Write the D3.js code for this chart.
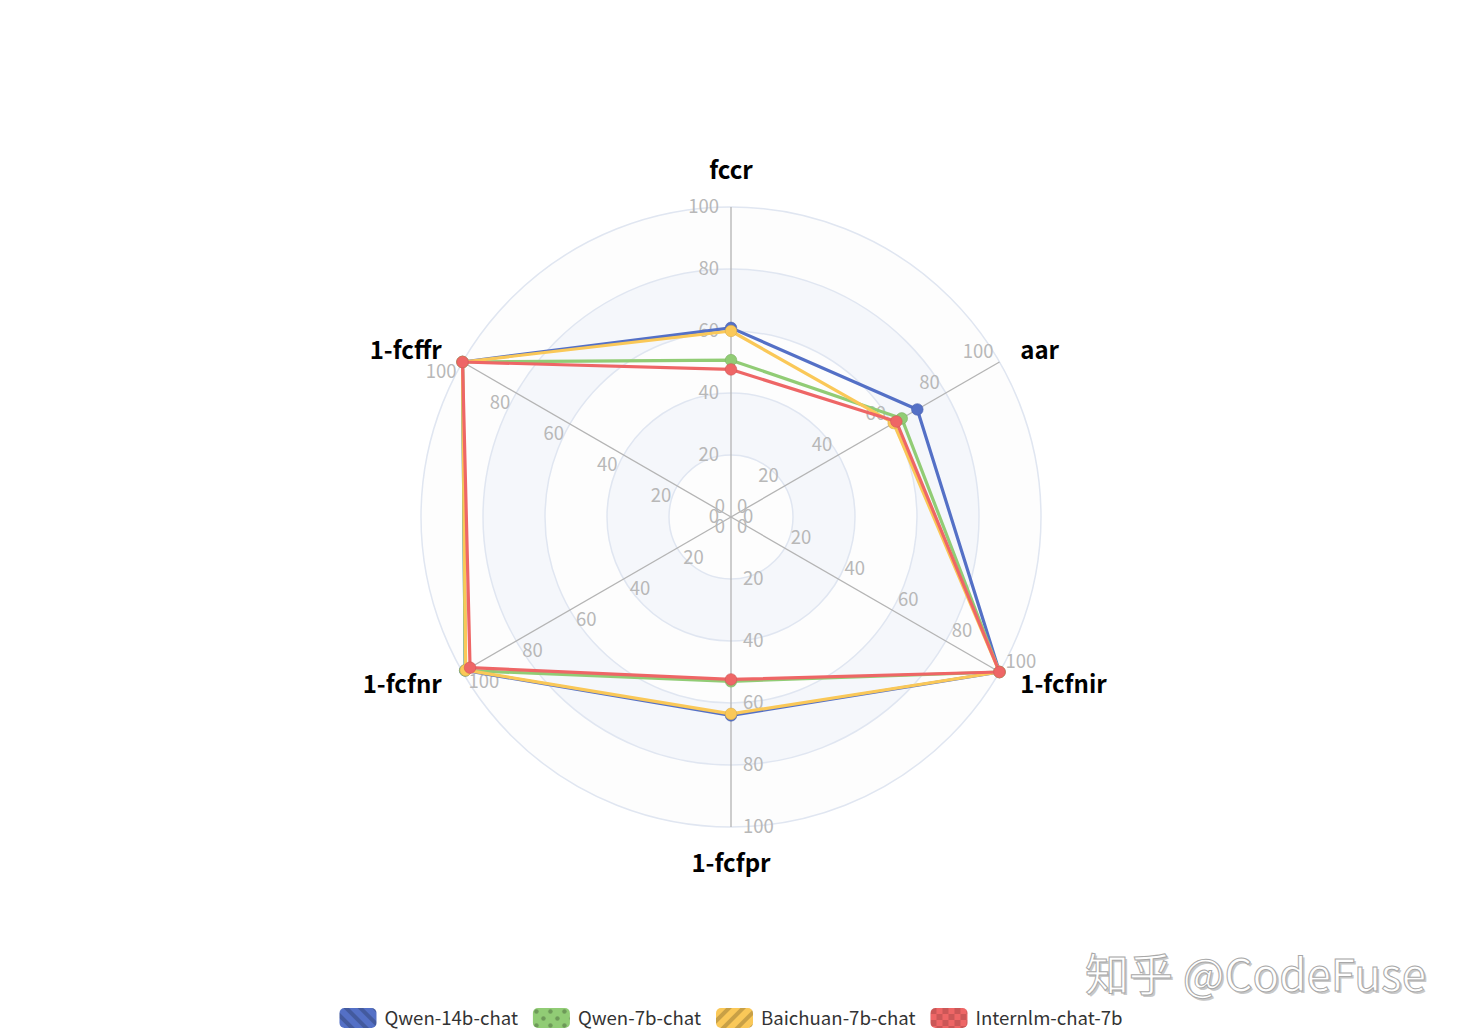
<!DOCTYPE html>
<html><head><meta charset="utf-8">
<script src="https://cdn.jsdelivr.net/npm/d3@7"></script>
<style>
html,body{margin:0;padding:0;background:#fff;}
svg{display:block;}
</style></head>
<body>
<svg id="chart" width="1461" height="1036"></svg>
<script>
const indicators = ["fccr", "aar", "1-fcfnir", "1-fcfpr", "1-fcfnr", "1-fcffr"];
const seriesNames = ["Qwen-14b-chat", "Qwen-7b-chat", "Baichuan-7b-chat", "Internlm-chat-7b"];
const qwen14b = [61, 69.4, 100, 64, 99, 100];
const qwen7b = [50.6, 63.6, 100, 53, 99, 100];
const baichuan7b = [60, 60.6, 100, 63.5, 98.8, 100];
const internlm7b = [47.6, 61.6, 100, 52.4, 97.2, 100];
const tickValues = [0, 20, 40, 60, 80, 100];
const colors = ["#5470c6", "#91cc75", "#fac858", "#ee6666"];
const seriesData = [qwen14b, qwen7b, baichuan7b, internlm7b];

const svg = d3.select("#chart");
const cx = 731, cy = 517, R = 310;
const FONT = "'Noto Sans CJK SC','Noto Sans',sans-serif";

const r = d3.scaleLinear().domain([0, 100]).range([0, R]);
const angle = d3.scaleLinear().domain([0, indicators.length]).range([0, 2 * Math.PI]);
const g = svg.append("g").attr("transform", `translate(${cx},${cy})`);

// split areas
const areaColors = ["rgba(250,250,250,0.3)", "rgba(210,219,238,0.22)"];
for (let i = tickValues.length - 1; i > 0; i--) {
  g.append("path")
    .attr("d", d3.arc()({innerRadius: r(tickValues[i - 1]), outerRadius: r(tickValues[i]), startAngle: 0, endAngle: 2 * Math.PI}))
    .attr("fill", areaColors[(i - 1) % 2]);
}
// split lines
tickValues.slice(1).forEach(v => {
  g.append("circle").attr("r", r(v)).attr("fill", "none").attr("stroke", "#e0e6f1").attr("stroke-width", 1.5);
});
function pt(i, v) {
  const a = angle(i);
  return [Math.sin(a) * r(v), -Math.cos(a) * r(v)];
}
// axis lines
indicators.forEach((name, i) => {
  const [x, y] = pt(i, 100);
  g.append("line").attr("x1", 0).attr("y1", 0).attr("x2", x).attr("y2", y)
    .attr("stroke", "#b4b4b4").attr("stroke-width", 1.3);
});
// tick labels
indicators.forEach((name, i) => {
  const a = angle(i);
  const dx = Math.sin(a), dy = -Math.cos(a);
  const px = dy, py = -dx;
  const anchor = px < -0.01 ? "end" : (px > 0.01 ? "start" : "middle");
  tickValues.forEach(v => {
    const [x, y] = pt(i, v);
    g.append("text")
      .attr("x", x + px * 12).attr("y", y + py * 12 - 2)
      .attr("text-anchor", anchor).attr("dominant-baseline", "central")
      .attr("font-family", FONT).attr("font-size", 18.5).attr("fill", "#b8b8b8")
      .text(v);
  });
});
// indicator names
indicators.forEach((name, i) => {
  const a = angle(i);
  const dx = Math.sin(a), dy = -Math.cos(a);
  const rr = R + 24;
  const anchor = dx < -0.01 ? "end" : (dx > 0.01 ? "start" : "middle");
  let base = "central";
  let yy = dy * rr;
  if (Math.abs(dx) < 0.01) base = dy < 0 ? "auto" : "hanging";
  g.append("text")
    .attr("x", dx * rr).attr("y", dy < -0.99 ? yy - 4 : (dy > 0.99 ? yy - 1 : yy - 2))
    .attr("text-anchor", anchor).attr("dominant-baseline", base)
    .attr("font-family", FONT).attr("font-size", 24).attr("font-weight", "bold").attr("fill", "#000")
    .text(name);
});

// decal patterns
const defs = svg.append("defs");
function stripes(id, color, dir) {
  const p = defs.append("pattern").attr("id", id).attr("patternUnits", "userSpaceOnUse")
    .attr("width", 10).attr("height", 10).attr("patternTransform", `rotate(${dir})`);
  p.append("rect").attr("width", 10).attr("height", 10).attr("fill", color);
  p.append("rect").attr("width", 4).attr("height", 10).attr("fill", "rgba(0,0,0,0.2)");
}
stripes("dec0", colors[0], -45);
stripes("dec2", colors[2], 45);
{
  const p = defs.append("pattern").attr("id", "dec1").attr("patternUnits", "userSpaceOnUse").attr("width", 14).attr("height", 14);
  p.append("rect").attr("width", 14).attr("height", 14).attr("fill", colors[1]);
  p.append("circle").attr("cx", 3.5).attr("cy", 3.5).attr("r", 2.2).attr("fill", "rgba(0,0,0,0.25)");
  p.append("circle").attr("cx", 10.5).attr("cy", 10.5).attr("r", 2.2).attr("fill", "rgba(0,0,0,0.25)");
}
{
  const p = defs.append("pattern").attr("id", "dec3").attr("patternUnits", "userSpaceOnUse").attr("width", 12).attr("height", 12);
  p.append("rect").attr("width", 12).attr("height", 12).attr("fill", colors[3]);
  p.append("rect").attr("width", 6).attr("height", 6).attr("fill", "rgba(0,0,0,0.15)");
  p.append("rect").attr("x", 6).attr("y", 6).attr("width", 6).attr("height", 6).attr("fill", "rgba(0,0,0,0.15)");
}

// series
const line = d3.lineRadial().angle((d, i) => angle(i)).radius(d => r(d)).curve(d3.curveLinearClosed);
seriesData.forEach((vals, s) => {
  const sg = g.append("g");
  sg.append("path").attr("d", line(vals)).attr("fill", "none")
    .attr("stroke", colors[s]).attr("stroke-width", 3.2).attr("stroke-linejoin", "round");
  vals.forEach((v, i) => {
    const [x, y] = pt(i, v);
    sg.append("circle").attr("cx", x).attr("cy", y).attr("r", 5.8).attr("fill", colors[s])
      .attr("stroke", d3.color(colors[s]).darker(0.4)).attr("stroke-width", 0.6);
  });
});

// legend
const lg = svg.append("g");
let lx = 0;
seriesNames.forEach((name, s) => {
  const it = lg.append("g").attr("transform", `translate(${lx},0)`);
  it.append("rect").attr("x", 0).attr("y", 1008).attr("width", 37).attr("height", 20).attr("rx", 5)
    .attr("fill", `url(#dec${s})`);
  const t = it.append("text").attr("x", 45).attr("y", 1016).attr("dominant-baseline", "central")
    .attr("font-family", FONT).attr("font-size", 18.6).attr("fill", "#333").text(name);
  const w = 45 + t.node().getComputedTextLength();
  lx += w + 15;
});
const totalW = lx - 15;
lg.attr("transform", `translate(${cx - totalW / 2},0)`);

// watermark
const wm = "知乎 @CodeFuse";
svg.append("text").attr("x", 1087).attr("y", 993).attr("font-family", FONT).attr("font-size", 44)
  .attr("fill", "#c8c8c8").text(wm);
svg.append("text").attr("x", 1085).attr("y", 991).attr("font-family", FONT).attr("font-size", 44)
  .attr("fill", "#ffffff").attr("stroke", "#a8a8a8").attr("stroke-width", 1).text(wm);
</script>
</body></html>
